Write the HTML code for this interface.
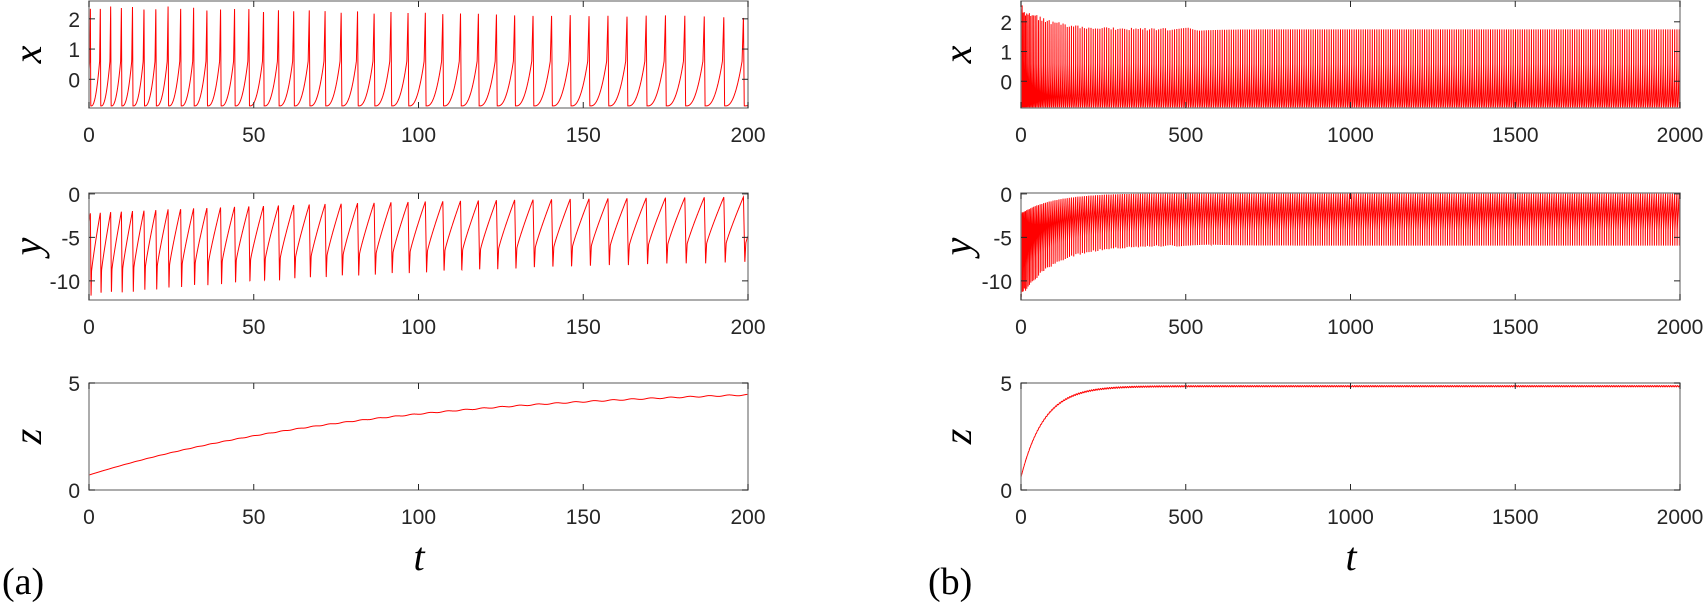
<!DOCTYPE html>
<html><head><meta charset="utf-8"><style>
html,body{margin:0;padding:0;background:#fff;}
svg{display:block;}
.tk{font-family:"Liberation Sans",sans-serif;font-size:21px;fill:#262626;}
.lb{font-family:"Liberation Serif",serif;font-style:italic;font-size:40px;fill:#000;}
.pn{font-family:"Liberation Serif",serif;font-size:38px;fill:#000;}
</style></head><body>
<svg id="s" width="1706" height="603" viewBox="0 0 1706 603" xmlns="http://www.w3.org/2000/svg">
<text class="pn" x="2" y="594">(a)</text>
<text class="pn" x="928" y="594">(b)</text>
<text class="lb" x="419" y="570" text-anchor="middle">t</text>
<text class="lb" x="1351" y="570" text-anchor="middle">t</text>
</svg>
<script>
var S=document.getElementById('s'),NS='http://www.w3.org/2000/svg';
function el(n,a,t){var e=document.createElementNS(NS,n);for(var k in a)e.setAttribute(k,a[k]);if(t!==undefined)e.textContent=t;S.appendChild(e);return e;}
function axes(L,R,T,B,x0,x1,y0,y1,xt,yt,lab,labx){
 var X=function(v){return L+(v-x0)/(x1-x0)*(R-L)},Y=function(v){return B-(v-y0)/(y1-y0)*(B-T)};
 return {X:X,Y:Y,draw:function(){
 el('rect',{x:L,y:T,width:R-L,height:B-T,fill:'none',stroke:'#7f7f7f','stroke-width':1.3});
 xt.forEach(function(v){var x=X(v);el('line',{x1:x,x2:x,y1:B,y2:B-6,stroke:'#262626'});el('line',{x1:x,x2:x,y1:T,y2:T+6,stroke:'#262626'});
  el('text',{class:'tk',x:x,y:B+34,'text-anchor':'middle'},String(v));});
 yt.forEach(function(v){var y=Y(v);el('line',{x1:L,x2:L+6,y1:y,y2:y,stroke:'#262626'});el('line',{x1:R,x2:R-6,y1:y,y2:y,stroke:'#262626'});
  el('text',{class:'tk',x:L-9,y:y+8,'text-anchor':'end'},String(v));});
 el('text',{class:'lb',x:labx,y:(T+B)/2+8,'text-anchor':'middle',transform:'rotate(-90 '+labx+' '+((T+B)/2)+')'},lab);
 }};
}
function series(tmax,N,zInf,z0,tau,T0,T1,xp0,xp1,xp_tau,ymx0,ymx1,ymn0,ymn1,ytau){
 var xs=[],ys=[],zs=[],ts=[],ph=0.85,dt=tmax/N;
 for(var i=0;i<=N;i++){var t=i*dt;
  var z=zInf-(zInf-z0)*Math.exp(-t/tau);var f=(z-z0)/(zInf-z0);
  var T=T0+(T1-T0)*f;ph+=dt/T;var p=ph-Math.floor(ph);
  var e=Math.exp(-t/xp_tau),ey=Math.exp(-t/ytau);
  var xpk=xp1+(xp0-xp1)*e,xmn=-0.88;
  var x;
  if(p<0.04){x=xpk+(xmn-xpk)*(p/0.04);}
  else if(p<0.1){x=xmn;}
  else if(p<0.93){var q=(p-0.1)/0.83;x=xmn+(0.6-xmn)*Math.pow(q,2.2);}
  else{x=0.6+(xpk-0.6)*((p-0.93)/0.07);}
  var ymx=ymx1+(ymx0-ymx1)*ey,ymn=ymn1+(ymn0-ymn1)*ey,y;
  var yk=ymn+(ymx-ymn)*0.3;
  if(p<0.07){y=ymx+(ymn-ymx)*(p/0.07);}
  else if(p<0.12){y=ymn+(yk-ymn)*((p-0.07)/0.05);}
  else{var q2=(p-0.12)/0.88;y=yk+(ymx-yk)*Math.pow(q2,0.9);}
  ts.push(t);xs.push(x);ys.push(y);zs.push(z+0.03*Math.sin(ph*2*Math.PI)*f);
 }
 return {t:ts,x:xs,y:ys,z:zs};
}
function line(ax,t,v){var d='';for(var i=0;i<t.length;i++){d+=(i?'L':'M')+ax.X(t[i]).toFixed(2)+' '+ax.Y(v[i]).toFixed(2);}
 el('path',{d:d,fill:'none',stroke:'#ff0000','stroke-width':1});}
var a1=axes(89,748,1,108,0,200,-0.95,2.59,[0,50,100,150,200],[0,1,2],'x',33);
var a2=axes(89,748,193,300,0,200,-12.2,0.1,[0,50,100,150,200],[-10,-5,0],'y',33);
var a3=axes(89,748,383,490,0,200,0,5,[0,50,100,150,200],[0,5],'z',33);
var sl=series(200,8000,4.85,0.7,86,2.95,6.3,2.5,2.0,120,-2.2,0.1,-11.8,-7.0,120);
line(a1,sl.t,sl.x);line(a2,sl.t,sl.y);line(a3,sl.t,sl.z);
a1.draw();a2.draw();a3.draw();
var b1=axes(1021,1680,1,108,0,2000,-0.9,2.7,[0,500,1000,1500,2000],[0,1,2],'x',963);
var b2=axes(1021,1680,193,300,0,2000,-12.2,0.1,[0,500,1000,1500,2000],[-10,-5,0],'y',963);
var b3=axes(1021,1680,383,490,0,2000,0,5,[0,500,1000,1500,2000],[0,5],'z',963);
var sr=series(2000,40000,4.85,0.6,70,2.95,6.9,2.6,1.8,80,-2.2,0.1,-12.0,-6.0,100);
line(b1,sr.t,sr.x);line(b2,sr.t,sr.y);line(b3,sr.t,sr.z);
b1.draw();b2.draw();b3.draw();
</script>
</body></html>
